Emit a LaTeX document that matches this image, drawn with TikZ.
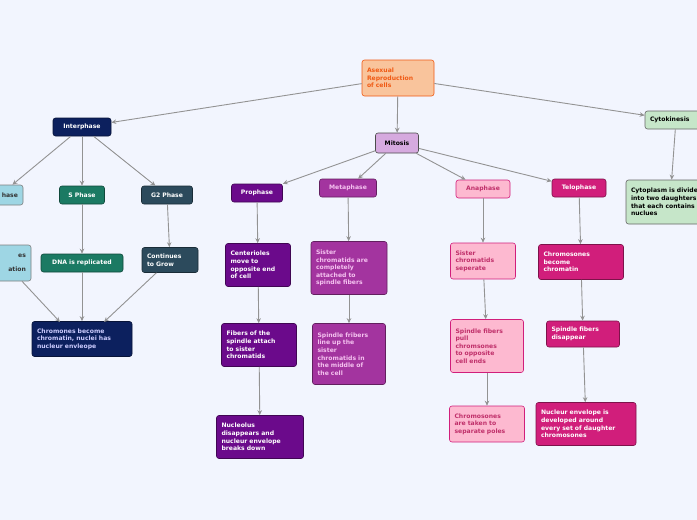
\documentclass[tikz,border=0pt]{standalone}
\usepackage{fontspec}
\setmainfont{DejaVu Sans}
\usetikzlibrary{arrows.meta}
\begin{document}
\begin{tikzpicture}[x=1pt,y=-1pt,
 b/.style={draw=#1!60!black,rounded corners=2.5pt,font=\bfseries\fontsize{6.1}{7.6}\selectfont,align=left,inner sep=0pt,line width=0.6pt},
 ar/.style={draw=gray!85,line width=0.9pt,-{Stealth[length=5pt,width=4.5pt]}}]
\definecolor{bg}{HTML}{F2F5FE}
\definecolor{orf}{HTML}{F9C49C}\definecolor{ord}{HTML}{F05A14}
\definecolor{navy}{HTML}{0C205E}\definecolor{lav}{HTML}{D6AADF}
\definecolor{mint}{HTML}{C6E6C9}\definecolor{lblue}{HTML}{9ED6E4}
\definecolor{teal}{HTML}{1B7A63}\definecolor{slate}{HTML}{2C4A5C}
\definecolor{purp}{HTML}{6B0A8B}\definecolor{mag}{HTML}{A3349F}
\definecolor{pink}{HTML}{FDB9D0}\definecolor{hot}{HTML}{D11E7B}
\definecolor{pinkt}{HTML}{C0306A}\definecolor{magt}{HTML}{F5C2F0}
\useasboundingbox (0,0) rectangle (697,520);
\fill[bg] (0,0) rectangle (697,520);
\newcommand{\bx}[8]{\node[b=#6,fill=#6,text=#7,minimum width=#3pt,minimum height=#4pt,text width=#3pt-10pt,#8] (#1) at (#2) {#5};}
\bx{root}{398,78}{72}{36}{Asexual\\Reproduction\\of cells}{orf}{ord}{draw=ord}
\bx{inter}{82,127}{58}{18}{Interphase}{navy}{white}{align=center}
\bx{mit}{397,143}{43}{20}{Mitosis}{lav}{black}{draw=black!70,align=center}
\bx{cyto}{676,120}{62}{18}{Cytokinesis}{mint}{black}{draw=black!60}
\bx{g1}{0,195}{46}{20}{\hfill hase}{lblue}{black!80}{draw=black!50}
\bx{s}{82,195}{45}{18}{S Phase}{teal}{white}{align=center}
\bx{g2}{167,195}{51}{18}{G2 Phase}{slate}{white}{align=center}
\bx{g1c}{5,263}{52}{36}{\hfill es\\[7pt]\hfill ation}{lblue}{black!80}{draw=black!50}
\bx{dna}{82,263}{82}{18}{DNA is replicated}{teal}{white}{align=center}
\bx{grow}{170,260}{56}{25}{Continues\\to Grow}{slate}{white}{}
\bx{chr}{82,339}{100}{35}{Chromones become\\chromatin, nuclei has\\nucleur envleope}{navy}{white!80!blue}{}
\bx{pro}{257,193}{51}{18}{Prophase}{purp}{white}{align=center}
\bx{meta}{348,188}{57}{18}{Metaphase}{mag}{magt}{align=center}
\bx{ana}{483,189}{54}{18}{Anaphase}{pink}{pinkt}{draw=hot,align=center}
\bx{telo}{579,188}{54}{18}{Telophase}{hot}{white}{align=center}
\bx{cent}{258,265}{65}{43}{Centerioles\\move to\\opposite end\\of cell}{purp}{white}{}
\bx{sis}{349,268}{76}{53}{Sister\\chromatids are\\completely\\attached to\\spindle fibers}{mag}{magt}{}
\bx{sep}{483,261}{65}{36}{Sister\\chromatids\\seperate}{pink}{pinkt}{draw=hot}
\bx{bec}{581,262}{85}{35}{Chromosones\\become\\chromatin}{hot}{white}{}
\bx{fib}{259,345}{75}{43}{Fibers of the\\spindle attach\\to sister\\chromatids}{purp}{white}{}
\bx{line}{349,354}{73}{61}{Spindle fribers\\line up the\\sister\\chromatids in\\the middle of\\the cell}{mag}{magt}{}
\bx{pull}{487,346}{73}{53}{Spindle fibers\\pull\\chromsones\\to opposite\\cell ends}{pink}{pinkt}{draw=hot}
\bx{dis}{583,334}{73}{26}{Spindle fibers\\disappear}{hot}{white}{}
\bx{nuc}{260,437}{87}{43}{Nucleolus\\disappears and\\nucleur envelope\\breaks down}{purp}{white}{}
\bx{tak}{487,424}{75}{36}{Chromosones\\are taken to\\separate poles}{pink}{pinkt}{draw=hot}
\bx{env}{586,424}{100}{43}{Nucleur envelope is\\developed around\\every set of daughter\\chromosones}{hot}{white}{}
\bx{cp}{670,202}{88}{44}{Cytoplasm is divided\\into two daughters so\\that each contains a\\nuclues}{mint}{black}{draw=black!60}
\coordinate (c1) at (60,322);
\coordinate (c2) at (104,322);
\draw[ar] (root) -- (inter);
\draw[ar] (root) -- (mit);
\draw[ar] (root) -- (cyto);
\draw[ar] (inter) -- (g1);
\draw[ar] (inter) -- (s);
\draw[ar] (inter) -- (g2);
\draw[ar] (s) -- (dna);
\draw[ar] (g2) -- (grow);
\draw[ar] (g1c) -- (c1);
\draw[ar] (dna) -- (chr);
\draw[ar] (grow) -- (c2);
\draw[ar] (mit) -- (pro);
\draw[ar] (mit) -- (meta);
\draw[ar] (mit) -- (ana);
\draw[ar] (mit) -- (telo);
\draw[ar] (pro) -- (cent);
\draw[ar] (cent) -- (fib);
\draw[ar] (fib) -- (nuc);
\draw[ar] (meta) -- (sis);
\draw[ar] (sis) -- (line);
\draw[ar] (ana) -- (sep);
\draw[ar] (sep) -- (pull);
\draw[ar] (pull) -- (tak);
\draw[ar] (telo) -- (bec);
\draw[ar] (bec) -- (dis);
\draw[ar] (dis) -- (env);
\draw[ar] (cyto) -- (cp);
\end{tikzpicture}
\end{document}
